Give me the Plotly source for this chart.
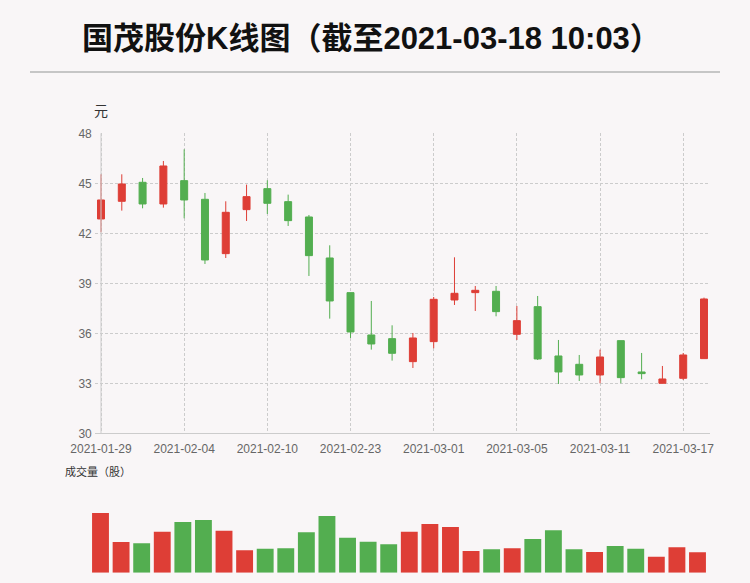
import plotly.graph_objects as go

dates = ["2021-01-29", "2021-02-01", "2021-02-02", "2021-02-03", "2021-02-04",
         "2021-02-05", "2021-02-08", "2021-02-09", "2021-02-10", "2021-02-18",
         "2021-02-19", "2021-02-22", "2021-02-23", "2021-02-24", "2021-02-25",
         "2021-02-26", "2021-03-01", "2021-03-02", "2021-03-03", "2021-03-04",
         "2021-03-05", "2021-03-08", "2021-03-09", "2021-03-10", "2021-03-11",
         "2021-03-12", "2021-03-15", "2021-03-16", "2021-03-17", "2021-03-18"]
opens = [42.86, 43.92, 45.06, 43.76, 45.16, 44.04, 40.78, 43.42, 44.68, 43.90,
         42.98, 40.52, 38.44, 35.90, 35.68, 34.30, 35.50, 38.00, 38.44, 38.52,
         35.94, 37.60, 34.64, 34.14, 33.50, 35.56, 33.68, 33.00, 33.30, 34.48]
highs = [45.54, 45.54, 45.32, 46.34, 47.04, 44.42, 43.92, 44.92, 45.18, 44.32,
         43.10, 41.28, 38.44, 37.94, 36.48, 36.02, 38.18, 40.56, 38.84, 38.84,
         37.64, 38.24, 35.60, 34.70, 35.02, 35.56, 34.82, 34.04, 34.82, 38.14]
lows = [42.06, 43.36, 43.50, 43.54, 42.90, 40.16, 40.52, 42.74, 43.16, 42.44,
        39.44, 36.88, 35.72, 35.02, 34.36, 33.92, 35.10, 37.70, 37.34, 37.02,
        35.60, 34.40, 32.96, 33.14, 33.00, 33.00, 33.24, 33.00, 33.20, 34.48]
closes = [44.00, 44.96, 43.76, 46.04, 44.00, 40.40, 43.26, 44.20, 43.80, 42.76,
          40.66, 37.94, 36.08, 35.36, 34.80, 35.72, 38.04, 38.40, 38.58, 37.30,
          36.76, 34.46, 33.68, 33.50, 34.58, 33.34, 33.58, 33.26, 34.70, 38.06]
volumes = [5970000, 3070000, 2940000, 4100000, 5070000, 5270000, 4200000, 2240000,
           2400000, 2440000, 4040000, 5670000, 3500000, 3100000, 2840000, 4100000,
           4870000, 4570000, 2170000, 2340000, 2440000, 3370000, 4240000, 2340000,
           2070000, 2670000, 2400000, 1600000, 2540000, 2040000]
price_ticks = [30, 33, 36, 39, 42, 45, 48]
date_ticks = dates[::4]

RED = "#de3e36"
GREEN = "#53ae50"
BG = "#f9f6f7"
W, H = 750, 583
LATIN = "Liberation Sans, Arial, Noto Sans CJK SC, sans-serif"
CJK = "Noto Sans CJK SC, sans-serif"

def px_x(p):
    return p / W

def px_y(p):
    return 1 - p / H

vol_colors = [RED if c >= o else GREEN for o, c in zip(opens, closes)]

fig = go.Figure()
fig.add_trace(go.Candlestick(
    x=dates, open=opens, high=highs, low=lows, close=closes,
    increasing=dict(line=dict(color=RED, width=1), fillcolor=RED),
    decreasing=dict(line=dict(color=GREEN, width=1), fillcolor=GREEN),
    xaxis="x", yaxis="y", showlegend=False, hoverinfo="skip",
))
fig.add_trace(go.Bar(
    x=dates, y=volumes, marker=dict(color=vol_colors, line=dict(width=0)),
    xaxis="x2", yaxis="y2", showlegend=False, hoverinfo="skip",
))

# candle grid: index 0 at 101px, index 29 at 704px
step = (704 - 101) / 29
x0p = 101 - 0.3 * step
x1p = 704 + 0.3 * step
# volume grid
vstep = (697.5 - 100.5) / 29
vx0 = 100.5 - 0.5 * vstep
vx1 = 697.5 + 0.5 * vstep

fig.update_layout(
    width=W, height=H,
    margin=dict(l=0, r=0, t=0, b=0, autoexpand=False),
    paper_bgcolor=BG, plot_bgcolor=BG,
    boxgap=0.52,
    bargap=0.18,
    font=dict(family=LATIN, color="#666666", size=12),
    xaxis=dict(
        type="category", domain=[px_x(x0p), px_x(x1p)], range=[-0.3, 29.3],
        tickmode="array", tickvals=date_ticks, ticktext=date_ticks,
        showgrid=True, gridcolor="#cccccc", griddash="3px,2px", gridwidth=1,
        showline=True, linecolor="#cccccc", linewidth=1,
        ticks="", rangeslider=dict(visible=False), anchor="y",
        tickfont=dict(size=12, color="#666666", family=LATIN), fixedrange=True,
        automargin=False, ticklabelstandoff=4,
    ),
    yaxis=dict(
        domain=[px_y(433.3), px_y(133.3)], range=[30, 48],
        tickmode="array", tickvals=price_ticks,
        showgrid=True, gridcolor="#cccccc", griddash="3px,2px", gridwidth=1,
        zeroline=False, showline=False, ticks="", anchor="x",
        tickfont=dict(size=12, color="#666666", family=LATIN), ticklabelstandoff=2,
        automargin=False,
    ),
    xaxis2=dict(
        type="category", domain=[px_x(vx0), px_x(vx1)], range=[-0.5, 29.5],
        showticklabels=False, showgrid=False, showline=False, zeroline=False,
        ticks="", anchor="y2", automargin=False,
    ),
    yaxis2=dict(
        domain=[px_y(572.7), px_y(482.7)], range=[0, 9000000],
        showticklabels=False, showgrid=False, showline=False, zeroline=False,
        ticks="", anchor="x2", automargin=False,
    ),
    shapes=[
        dict(type="line", xref="x", yref="y domain", x0=dates[0], x1=dates[0],
             y0=0, y1=1, line=dict(color="#cccccc", width=1)),
        dict(type="line", xref="paper", yref="paper", x0=px_x(30), x1=px_x(720),
             y0=px_y(72), y1=px_y(72), line=dict(color="#c6c6c6", width=2)),
    ],
    annotations=[
        dict(text="<b>国茂股份K线图（截至2021-03-18 10:03）</b>", xref="paper", yref="paper",
             x=px_x(371), y=px_y(38), xanchor="center", yanchor="middle", showarrow=False,
             font=dict(size=31, color="#111111", family=LATIN)),
        dict(text="元", xref="paper", yref="paper", x=px_x(101), y=px_y(110),
             xanchor="center", yanchor="middle", showarrow=False,
             font=dict(size=14, color="#333333", family=CJK)),
        dict(text="成交量（股）", xref="paper", yref="paper", x=px_x(98), y=px_y(471),
             xanchor="center", yanchor="middle", showarrow=False,
             font=dict(size=11, color="#333333", family=CJK)),
    ],
)

fig.write_html("out.html")
